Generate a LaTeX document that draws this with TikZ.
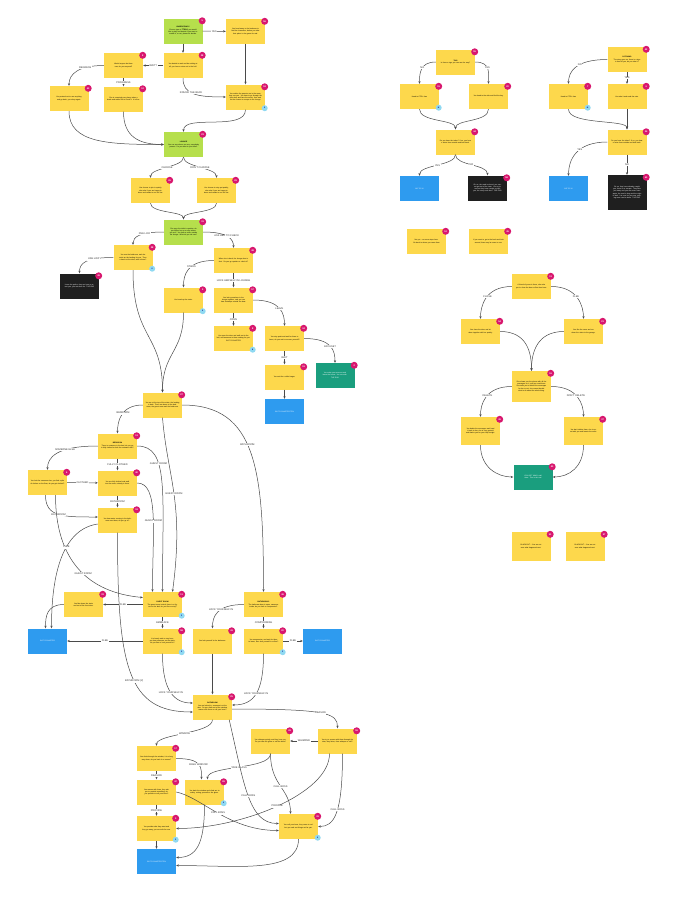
\documentclass[tikz,border=0pt]{standalone}
\usepackage{fontspec}
\setmainfont{Liberation Sans}
\usetikzlibrary{arrows.meta}
\definecolor{stick}{HTML}{FDD84C}
\definecolor{limec}{HTML}{B6DF4C}
\definecolor{bluec}{HTML}{2E9BEF}
\definecolor{tealc}{HTML}{1A9E7E}
\definecolor{blkc}{HTML}{1F1F1F}
\definecolor{magc}{HTML}{D8176E}
\definecolor{cyanc}{HTML}{8FD9F2}
\definecolor{linec}{HTML}{4A4A4A}
\tikzset{
 box/.style={rectangle, fill=stick, minimum width=39pt, minimum height=25pt, text width=34pt, align=center, inner sep=1pt, font=\fontsize{1.75}{2.15}\selectfont},
 gbox/.style={box, fill=limec},
 bbox/.style={box, fill=bluec, text=white},
 kbox/.style={box, fill=blkc, text=white},
 tbox/.style={box, fill=tealc, text=white},
 badge/.style={circle, fill=magc, text=white, minimum size=7pt, inner sep=0pt, font=\fontsize{2.3}{2.3}\selectfont\bfseries},
 cbadge/.style={circle, fill=cyanc, text=blue!50!black, minimum size=6pt, inner sep=0pt, font=\fontsize{2}{2}\selectfont\bfseries},
 ar/.style={draw=linec, line width=0.5pt, -{Stealth[length=2.6pt,width=2.2pt]}},
 lbl/.style={fill=white, inner sep=0.6pt, font=\fontsize{2.5}{2.5}\selectfont, text=black!80},
}
\newcommand{\mybadge}[2]{\node[badge] (bd#1) at ([xshift=-0.5pt,yshift=-2.5pt]#1.north east) {#2};}
\newcommand{\mycyan}[2]{\node[cbadge] (cb#1) at ([xshift=-0.5pt,yshift=1.5pt]#1.south east) {#2};}
\begin{document}
\begin{tikzpicture}[x=1pt,y=-1pt]
\fill[white] (0,0) rectangle (680,900);
\useasboundingbox (0,0) rectangle (680,900);

% ---------------- left main chart ----------------
\node[gbox] (n5) at (183,31) {\textbf{UNDERSTAND?}\\[0.6pt] Choose type of \textbf{TTRPG} you would like to play and decide if you want to enable it, or not, please do decide.};
\node[box] (n56) at (245.5,31.5) {You head away to the bedroom to find the characters, before you take their place in the game for real.};
\node[box] (n28a) at (183,65.5) {You decide to wait and do nothing at all, you hear a noise out in the hall.};
\node[box] (n8a) at (123.5,65.5) {Would anyone be there now, do you respond?};
\node[box] (n43) at (69,98.5) {You pretend not to see anything and go back, you sleep again.};
\node[box] (n12a) at (123.5,99) {She is seemingly very busy, takes a break and walks out to check it. It is fine.};
\node[box] (n53) at (245.5,97) {You realise the parents are in the room, they see you. You have to go through the front door and face the music, then wait for the chance to escape to the lounge.};
\node[gbox] (n23) at (183.5,144.5) {\textbf{LOUNGE}\\[0.6pt] You can see where you are, everybody present. Do you want to join them?};
\node[box] (n26a) at (150.5,190.5) {You choose to join in quietly, she asks if you are happy to leave and needs to use the loo.};
\node[box] (n29a) at (216.5,190.5) {You choose to stay put quietly, she asks if you are happy to leave and needs to use the loo.};
\node[gbox] (n31) at (183.5,232) {She says the toilet is upstairs, do you follow her up or stay where you are? You hear a noise outside the lounge. What do you do now?};
\node[box] (n28b0) at (133,257.5) {You use the bathroom, and she waits on the landing for you. Then a knock at the door, who is there?};
\node[kbox] (nBlack1) at (79.5,286) {It was the police, they are here to arrest you, you are done for. THE END};
\node[box] (n48) at (233.5,260.5) {When she is back, the lounge door is shut. Do you go upstairs or check it?};
\node[box] (n9) at (183.5,300) {You head up the stairs.};
\node[box] (n57) at (233.5,300) {You lock yourselves in the lounge together, and you can hear footsteps outside the door.};
\node[box] (nOpen) at (233.5,338.5) {You open the door and walk out to the hall, and someone is there waiting for you.\\[0.6pt] GO TO CHAPTER};
\node[box] (n34) at (284.5,338.5) {You stay quiet and wait for them to leave, do you wait or excuse yourself?};
\node[box] (n19) at (284.5,377) {You wait for a while longer.};
\node[tbox] (n2) at (335,375.5) {You make your excuses and leave the house. You are safe.\\[0.6pt] THE END};
\node[bbox] (nBlue1) at (284.5,411.5) {GO TO CHAPTER TEN};
\node[box] (n27) at (162.5,405) {You are at the top of the stairs, the landing is dark. There are doors to the bedroom, the guest room and the bathroom.};
\node[box] (n13) at (117.5,446) {\textbf{BEDROOM}\\[0.6pt] There is someone in the bed, do you go in fully clothed or look for someone else?};
\node[box] (n6) at (47.5,482.5) {You look for someone else, you find a pile of clothes on the floor, do you get clothed?};
\node[box] (n40) at (117.5,483) {You are fully clothed and walk into the room, nobody is there.};
\node[box] (n18) at (117.5,520) {You hear water running in the bathroom next door, do you go in?};
\node[box] (n11) at (162.5,604.5) {\textbf{GUEST ROOM}\\[0.6pt] The guest room is dark, there is a figure on the bed, do you flee or stay?};
\node[box] (n33) at (83.5,604.5) {You flee down the stairs and out of the front door.};
\node[bbox] (nBlueL) at (47.5,641) {GO TO CHAPTER};
\node[box] (n58) at (162.5,641) {It is barely safe to stay here, you hear someone on the stairs, do you flee or lock yourself in?};
\node[box] (n46) at (263.5,604.5) {\textbf{BATHROOM 2}\\[0.6pt] The bathroom door is open, someone inside, do you lock or compromise?};
\node[box] (n41) at (212.5,641) {You lock yourself in the bathroom.};
\node[box] (n20) at (263.5,641) {You compromise, and wait for them to leave, then lock yourself in or flee?};
\node[bbox] (nBlueR) at (322.5,641) {GO TO CHAPTER};
\node[box] (n25) at (212.5,707) {\textbf{BATHROOM}\\[0.6pt] You are locked in, someone is at the door. Do you climb out of the window, reason with them or call your boss?};
\node[box] (n17) at (156.5,758.5) {You climb through the window, it is a long way down, do you bash it or reason?};
\node[box] (n28b) at (270.5,741) {You whimper quietly, and they hear you. Do you take the glass or call the boss?};
\node[box] (n59) at (337.5,741) {You try to reason with them through the door, they listen, then whimper or call?};
\node[box] (n26b) at (204.5,792) {You bash the window and climb out to safety, cutting yourself on the glass.};
\node[box] (n47) at (156.5,792) {You reason with them, they ask you to provide something, do you provide or call your boss?};
\node[box] (n3) at (156.5,828.5) {You provide what they want and they go away, you are safe for now.};
\node[bbox] (nBlueB) at (156.5,861.5) {GO TO CHAPTER TEN};
\node[box] (n39) at (298.5,826.5) {You call your boss, they come to collect you and sort things out for you.};

\mybadge{n5}{5}\mybadge{n56}{56}\mybadge{n28a}{28}\mybadge{n8a}{8}\mybadge{n43}{43}
\mybadge{n12a}{12}\mybadge{n53}{53}\mybadge{n23}{23}\mybadge{n26a}{26}\mybadge{n29a}{29}
\mybadge{n31}{31}\mybadge{n28b0}{28}\mybadge{nBlack1}{49}\mybadge{n48}{48}\mybadge{n9}{9}
\mybadge{n57}{57}\mybadge{nOpen}{8}\mybadge{n34}{34}\mybadge{n19}{19}\mybadge{n2}{2}
\mybadge{n27}{27}\mybadge{n13}{13}\mybadge{n6}{6}\mybadge{n40}{40}\mybadge{n18}{18}
\mybadge{n11}{11}\mybadge{n33}{33}\mybadge{n58}{58}\mybadge{n46}{46}\mybadge{n41}{41}
\mybadge{n20}{20}\mybadge{n25}{25}\mybadge{n17}{17}\mybadge{n28b}{28}\mybadge{n59}{59}
\mybadge{n26b}{26}\mybadge{n47}{47}\mybadge{n3}{3}\mybadge{n39}{39}
\mycyan{n53}{5}\mycyan{n28b0}{6}\mycyan{n9}{9}\mycyan{nOpen}{8}\mycyan{n11}{2}
\mycyan{n58}{5}\mycyan{n20}{2}\mycyan{n26b}{6}\mycyan{n3}{2}\mycyan{n39}{6}

% edges top
\draw[ar] (n5) -- node[lbl] (l1) {YES} (n56);
\draw[ar] (n5) -- (n28a);
\draw[ar] (n28a) -- node[lbl] (l2) {WAIT?} (n8a);
\draw[ar] (n8a.west) .. controls +(-25,0) and +(0,-12) .. node[lbl,pos=0.3] (l3) {REGRESS} (n43.north);
\draw[ar] (n8a) -- node[lbl] (l4) {PROGRESS} (n12a);
\draw[ar] (n56) -- (n53);
\draw[ar] (n28a.south) .. controls +(0,16) and +(-30,0) .. node[lbl,pos=0.45] (l5) {ROUND THE BACK} (n53.west);
\draw[ar] (n43.south) .. controls +(0,32) and +(-55,0) .. (n23.west);
\draw[ar] (n12a.south) .. controls +(0,25) and +(-25,0) .. (n23.west);
\draw[ar] (n53.south) .. controls +(0,22) and +(0,-18) .. (n23.north);
\draw[ar] (n23.south) .. controls +(0,10) and +(0,-10) .. node[lbl] (l6) {CHOOSE} (n26a.north);
\draw[ar] (n23.south) .. controls +(0,10) and +(0,-10) .. node[lbl] (l7) {DON'T CHOOSE} (n29a.north);
\draw[ar] (n26a.south) .. controls +(0,10) and +(0,-8) .. (n31.north);
\draw[ar] (n29a.south) .. controls +(0,10) and +(0,-8) .. (n31.north);
\draw[ar] (n31.west) .. controls +(-24,0) and +(0,-8) .. node[lbl,pos=0.35] (l8) {PEE LOO} (n28b0.north);
\draw[ar] (n31.east) .. controls +(26,0) and +(0,-8) .. node[lbl,pos=0.45] (l9) {ASK HER TO CHECK} (n48.north);
\draw[ar] (n28b0.west) .. controls +(-28,0) and +(0,-10) .. node[lbl,pos=0.3] (l10) {USE LOO} (nBlack1.north);
\draw[ar] (n28b0.south) .. controls +(0,70) and +(0,-60) .. (n27.north);
\draw[ar] (n48.west) .. controls +(-27,0) and +(0,-12) .. node[lbl,pos=0.4] (l11) {STAIRS} (n9.north);
\draw[ar] (n48) -- node[lbl] (l12) {LOCK HERSELF IN LOUNGE} (n57);
\draw[ar] (n9.south) .. controls +(0,40) and +(0,-40) .. (n27.north);
\draw[ar] (n57) -- node[lbl] (l13) {OPEN} (nOpen);
\draw[ar] (n57.east) .. controls +(28,0) and +(0,-12) .. node[lbl,pos=0.5] (l14) {LEAVE} (n34.north);
\draw[ar] (n34) -- node[lbl] (l15) {WAIT} (n19);
\draw[ar] (n34.east) .. controls +(28,0) and +(0,-12) .. node[lbl,pos=0.5] (l16) {EXCUSE?} (n2.north);
\draw[ar] (n19) -- (nBlue1);
% landing
\draw[ar] (n27.west) .. controls +(-22,0) and +(0,-12) .. node[lbl,pos=0.45] (l17) {BEDROOM} (n13.north);
\draw[ar] (n27.east) .. controls +(75,0) and +(0,-120) .. node[lbl,pos=0.45] (l18) {BATHROOM} (n46.north);
\draw[ar] (n27.south) .. controls +(5,60) and +(12,-90) .. node[lbl,pos=0.5] (l19) {GUEST ROOM} ([xshift=10pt]n11.north);
\draw[ar] (n13.east) .. controls +(32,0) and +(0,-100) .. node[lbl,pos=0.35] (l20) {GUEST ROOM} (n11.north);
\draw[ar] (n40.east) .. controls +(22,0) and +(0,-60) .. node[lbl,pos=0.55] (l21) {GUEST ROOM} ([xshift=-10pt]n11.north);
\draw[ar] (n13.west) .. controls +(-42,0) and +(0,-12) .. node[lbl,pos=0.35] (l22) {SOMEONE ELSE} (n6.north);
\draw[ar] (n13) -- node[lbl] (l23) {FULLY CLOTHED} (n40);
\draw[ar] (n6) -- node[lbl] (l24) {CLOTHED} (n40);
\draw[ar] (n40) -- node[lbl] (l25) {BATHROOM} (n18);
\draw[ar] ([xshift=-2pt]n6.south) .. controls +(0,22) and +(-35,0) .. node[lbl,pos=0.5] (l26) {BATHROOM} ([yshift=3pt]n18.west);
\draw[ar] ([xshift=8pt]n6.south) .. controls +(0,65) and +(-55,-5) .. node[lbl,pos=0.55] (l27) {GUEST ROOM} ([yshift=7pt]n11.west);
\draw[ar] ([yshift=-4pt]n18.west) .. controls +(-35,5) and +(0,-55) .. node[lbl,pos=0.4] (l28) {FLEE} ([xshift=4pt]nBlueL.north);
\draw[ar] (n11) -- node[lbl] (l29) {FLEE} (n33);
\draw[ar] (n33.west) .. controls +(-17,0) and +(0,-12) .. ([xshift=-2pt]nBlueL.north);
\draw[ar] (n11) -- node[lbl] (l30) {EMBRACE} (n58);
\draw[ar] (n58) -- node[lbl] (l31) {FLEE} (nBlueL);
\draw[ar] (n18.south) .. controls +(0,135) and +(-65,0) .. node[lbl,pos=0.55] (l32) {BATHROOM (2)} ([yshift=-5pt]n25.west);
\draw[ar] (n58.south) .. controls +(0,38) and +(-18,0) .. node[lbl,pos=0.5] (l33) {LOCK YOURSELF IN} ([yshift=4pt]n25.west);
\draw[ar] (n46.west) .. controls +(-27,0) and +(0,-12) .. node[lbl,pos=0.4] (l34) {LOCK YOURSELF IN} (n41.north);
\draw[ar] (n46) -- node[lbl] (l35) {COMPROMISE} (n20);
\draw[ar] (n20) -- node[lbl] (l36) {FLEE} (nBlueR);
\draw[ar] (n41) -- (n25);
\draw[ar] (n20.south) .. controls +(0,38) and +(22,0) .. node[lbl,pos=0.5] (l37) {LOCK YOURSELF IN} ([yshift=2pt]n25.east);
% bathroom
\draw[ar] ([yshift=-2pt]n25.east) .. controls +(95,0) and +(0,-15) .. node[lbl,pos=0.5] (l38) {REASON} (n59.north);
\draw[ar] (n25.south) .. controls +(0,14) and +(0,-12) .. node[lbl,pos=0.5] (l39) {WINDOW} (n17.north);
\draw[ar] (n59) -- node[lbl] (l40) {WHIMPER} (n28b);
\draw[ar] (n17.east) .. controls +(26,0) and +(0,-12) .. node[lbl,pos=0.5] (l41) {BASH WINDOW} ([xshift=-3pt]n26b.north);
\draw[ar] (n28b.south) .. controls +(0,16) and +(0,-14) .. node[lbl,pos=0.5] (l42) {TAKE GLASS} ([xshift=3pt]n26b.north);
\draw[ar] (n17) -- node[lbl] (l43) {REASON} (n47);
\draw[ar] (n47) -- node[lbl] (l44) {PROVIDE} (n3);
\draw[ar] (n3) -- (nBlueB);
\draw[ar] ([xshift=-3pt]n25.south east) .. controls +(15,65) and +(-30,0) .. node[lbl,pos=0.5] (l45) {CALL BOSS} ([yshift=3pt]n39.west);
\draw[ar] (n28b.south) .. controls +(0,32) and +(0,-25) .. node[lbl,pos=0.5] (l46) {CALL BOSS} ([xshift=-8pt]n39.north);
\draw[ar] ([xshift=5pt]n59.south) .. controls +(0,60) and +(16,0) .. node[lbl,pos=0.45] (l47) {CALL BOSS} (n39.east);
\draw[ar] ([xshift=-8pt]n59.south) .. controls +(0,40) and +(65,0) .. node[lbl,pos=0.5] (l48) {PROVIDE} (n3.east);
\draw[ar] (n47.east) .. controls +(25,5) and +(-50,0) .. node[lbl,pos=0.5] (l49) {CALL BOSS} ([yshift=-4pt]n39.west);
\draw[ar] (n26b.south) .. controls +(0,40) and +(20,0) .. ([yshift=4pt]nBlueB.east);
\draw[ar] (n39.south) .. controls +(0,35) and +(60,0) .. ([yshift=-4pt]nBlueB.east);

% ---------------- right column ----------------
\node[box] (r55) at (455.5,62) {\textbf{THIS}\\[0.6pt] Is there a sign you can see the way?};
\node[box] (r15) at (419.5,96.5) {Head to CTRL then};
\node[box] (r20) at (488.5,96.5) {You head to the side and find the key.};
\node[box] (r44) at (455.5,142) {Do you have the token? If so, you hear a noise from outside and look back.};
\node[bbox] (rBlue1) at (419.5,188.5) {GO TO 10};
\node[kbox] (rBlack1) at (487.5,188) {Oh no, the road is closed, you cannot get out of the town. You try to run but they have caught up with you, the story ends here. THE END};
\node[box] (r42) at (627,59.5) {\textbf{CATCHING}\\[0.6pt] The story goes on, there is a sign in front of you, do you take it?};
\node[box] (r7) at (568.5,96.5) {Head to CTRL then};
\node[box] (r6) at (627,96.5) {You take it and read the note.};
\node[box] (r24) at (627,142) {Do you have the token? If so, you hear a noise from outside and look back.};
\node[bbox] (rBlue2) at (568.5,188.5) {GO TO 10};
\node[kbox, minimum height=35pt] (rBlack2) at (627,192.5) {Oh no, they have already caught you, there is no escape. They take you away and you are never seen again, the road is long and the night is dark. It is over for you now, nothing more can be done. THE END};
\node[box] (r12) at (426.5,241.5) {Not yet -- no more steps here.\\[0.6pt] Go back to where you came from};
\node[box] (r45) at (488.5,241.5) {If you want to, go to the back and look around, there may be more to see.};
\node[box] (r13) at (531.5,286.5) {A friend of yours is there, she asks you to close the door or flee from here.};
\node[box] (r54) at (480.5,331.5) {You close the door and sit down together with her quietly.};
\node[box] (r21) at (583.5,331.5) {You flee the room and run down the stairs to the garage.};
\node[box, minimum height=31pt] (r16) at (531.5,386.5) {She shows you the phone with all the messages on it, and you read them. She asks you to delete the messages for her or not, she cannot decide what to do about the whole thing.};
\node[box, minimum height=28pt] (r49) at (480.5,431) {You delete the messages and hand it back to her, she is very grateful and thanks you for your help tonight.};
\node[box, minimum height=28pt] (r37) at (583.5,431) {You don't delete them, she is upset with you and leaves the room.};
\node[tbox] (r40) at (533,477) {YOU GOT AWAY, well done. This is the end};
\node[box, minimum height=29pt] (r51) at (531,546.5) {BLACKOUT -- You are not sure what happened next.};
\node[box, minimum height=29pt] (r57) at (585,546.5) {BLACKOUT -- You are not sure what happened next.};

\mybadge{r55}{55}\mybadge{r15}{15}\mybadge{r20}{20}\mybadge{r44}{44}\mybadge{rBlack1}{58}
\mybadge{r42}{42}\mybadge{r7}{7}\mybadge{r6}{6}\mybadge{r24}{24}\mybadge{rBlack2}{60}
\mybadge{r12}{12}\mybadge{r45}{45}\mybadge{r13}{13}\mybadge{r54}{54}\mybadge{r21}{21}
\mybadge{r16}{16}\mybadge{r49}{49}\mybadge{r37}{37}\mybadge{r40}{40}\mybadge{r51}{51}\mybadge{r57}{57}
\mycyan{r15}{N}\mycyan{r7}{N}

\draw[ar] (r55.west) .. controls +(-16,0) and +(0,-10) .. node[lbl,pos=0.45] (m1) {NO} (r15.north);
\draw[ar] (r55.east) .. controls +(16,0) and +(0,-10) .. node[lbl,pos=0.45] (m2) {YES} (r20.north);
\draw[ar] (r15.south) .. controls +(0,13) and +(0,-10) .. (r44.north);
\draw[ar] (r20.south) .. controls +(0,13) and +(0,-10) .. (r44.north);
\draw[ar] (r44.south) .. controls +(0,11) and +(0,-11) .. node[lbl,pos=0.5] (m3) {YES} (rBlue1.north);
\draw[ar] (r44.south) .. controls +(0,11) and +(0,-11) .. node[lbl,pos=0.5] (m4) {NO} (rBlack1.north);
\draw[ar] (r42.west) .. controls +(-32,0) and +(0,-12) .. node[lbl,pos=0.4] (m5) {NO} (r7.north);
\draw[ar] (r42) -- node[lbl] (m6) {YES} (r6);
\draw[ar] (r7.south) .. controls +(0,16) and +(0,-10) .. (r24.north);
\draw[ar] (r6) -- (r24);
\draw[ar] (r24.west) .. controls +(-32,0) and +(0,-15) .. node[lbl,pos=0.4] (m7) {YES} (rBlue2.north);
\draw[ar] (r24) -- node[lbl] (m8) {NO} (rBlack2);
\draw[ar] (r13.west) .. controls +(-27,0) and +(0,-12) .. node[lbl,pos=0.45] (m9) {CLOSE} (r54.north);
\draw[ar] (r13.east) .. controls +(27,0) and +(0,-12) .. node[lbl,pos=0.45] (m10) {FLEE} (r21.north);
\draw[ar] (r54.east) .. controls +(27,0) and +(0,-18) .. (r16.north);
\draw[ar] (r21.west) .. controls +(-27,0) and +(0,-18) .. (r16.north);
\draw[ar] (r16.west) .. controls +(-27,0) and +(0,-12) .. node[lbl,pos=0.45] (m11) {DELETE} (r49.north);
\draw[ar] (r16.east) .. controls +(27,0) and +(0,-12) .. node[lbl,pos=0.45] (m12) {DON'T DELETE} (r37.north);
\draw[ar] (r49.south) .. controls +(0,22) and +(-16,0) .. (r40.west);
\draw[ar] (r37.south) .. controls +(0,22) and +(16,0) .. (r40.east);
\end{tikzpicture}
\end{document}
